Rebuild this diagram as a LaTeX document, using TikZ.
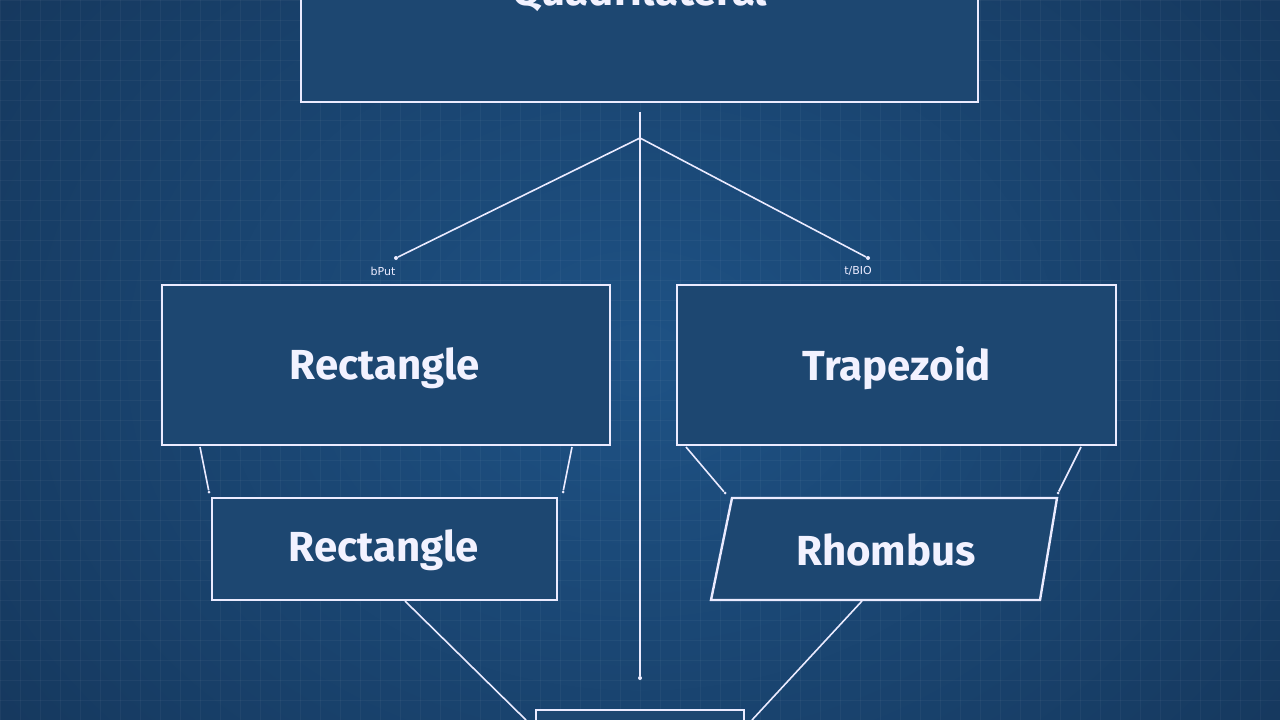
\documentclass[tikz,border=0pt]{standalone}
\usepackage{fontspec}
\setmainfont{Fira Sans}
\newfontfamily\lblfont{DejaVu Sans}
\definecolor{bgin}{HTML}{1E5285}
\definecolor{bgout}{HTML}{15375C}
\definecolor{boxfill}{HTML}{1D4771}
\begin{document}
\begin{tikzpicture}[x=1pt,y=-1pt,
  shape box/.style={draw=white!92!blue, line width=2.4pt, fill=boxfill},
  conn/.style={draw=white!92!blue, line width=1.6pt},
  title/.style={text=white!95!blue, font=\fontsize{42}{46}\selectfont\bfseries},
  tiny/.style={text=white!92!blue, font=\lblfont\fontsize{11}{12}\selectfont},
  dot/.style={circle, fill=white!92!blue, inner sep=0pt, minimum size=4pt}]
\useasboundingbox (0,0) rectangle (1280,720);
\begin{scope}
\clip (0,0) rectangle (1280,720);
\shade[inner color=bgin, outer color=bgout] (-200,-300) rectangle (1480,1020);
\foreach \i in {0,20,...,1280} \draw[white, opacity=0.04, line width=0.5pt] (\i,0) -- (\i,720);
\foreach \j in {0,20,...,720} \draw[white, opacity=0.04, line width=0.5pt] (0,\j) -- (1280,\j);
% boxes
\draw[shape box] (301,-10) rectangle (978,102);
\node[title] (quad) at (640,-8) {Quadrilateral};
\draw[shape box] (162,285) rectangle (610,445);
\node[title] (rect1) at (385,368) {Rectangle};
\draw[shape box] (677,285) rectangle (1116,445);
\node[title] (trap) at (897,368) {Trapezoid};
\draw[shape box] (212,498) rectangle (557,600);
\node[title] (rect2) at (384,550) {Rectangle};
\draw[shape box] (732,498) -- (1057,498) -- (1040,600) -- (711,600) -- cycle;
\node[title] (rho) at (886,550) {Rhombus};
\draw[shape box] (536,710) rectangle (744,740);
% connectors
\coordinate (top) at (640,112);
\coordinate (fork) at (640,138);
\node[dot] (cbot) at (640,678) {};
\draw[conn] (top) -- (cbot);
\node[dot] (dl) at (396,258) {};
\node[dot] (dr) at (868,258) {};
\draw[conn] (fork) -- (dl);
\draw[conn] (fork) -- (dr);
\node[tiny] (lbl1) at (383,271) {bPut};
\node[tiny] (lbl2) at (858,271) {t/BIO};
\node[dot, minimum size=3pt] (a1) at (209,492) {};
\node[dot, minimum size=3pt] (a2) at (563,492) {};
\node[dot, minimum size=3pt] (a3) at (725,493) {};
\node[dot, minimum size=3pt] (a4) at (1058,493) {};
\draw[conn] (200,447) -- (a1);
\draw[conn] (572,447) -- (a2);
\draw[conn] (686,447) -- (a3);
\draw[conn] (1081,447) -- (a4);
\draw[conn] (405,601) -- (526,720);
\draw[conn] (862,601) -- (752,720);
\end{scope}
\end{tikzpicture}
\end{document}
